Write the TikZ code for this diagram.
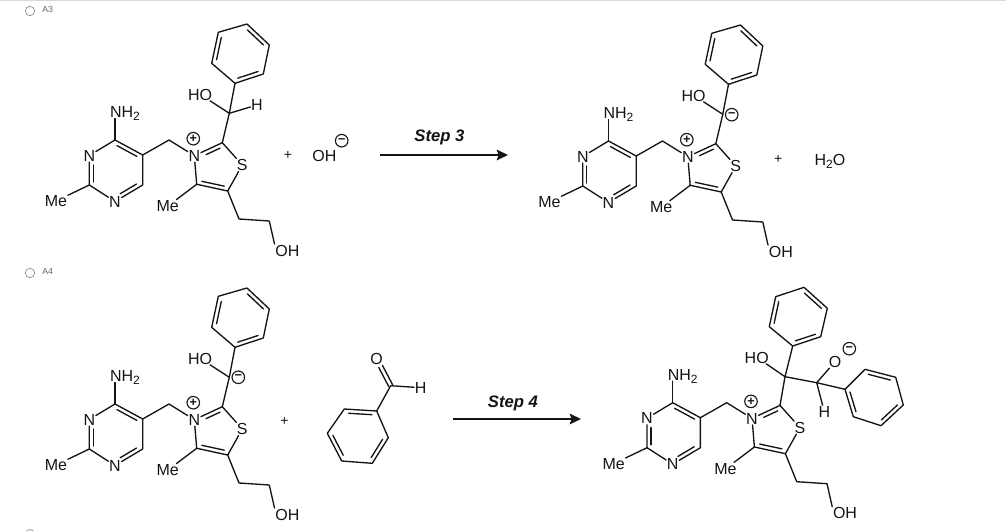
\documentclass[tikz,border=0pt]{standalone}
\usepackage{fontspec}
\setmainfont{Liberation Sans}
\usetikzlibrary{calc,arrows.meta}
\tikzset{
  bond/.style={line width=1pt,line cap=round,line join=round,black!92},
  atom/.style={inner sep=0.6pt,outer sep=0pt,font=\fontsize{12}{14}\selectfont,text height=8.6pt,text depth=0pt,text=black!92},
  vtx/.style={inner sep=0pt,outer sep=0pt,minimum size=0pt},
  charge/.style={circle,draw=black!90,line width=0.85pt,inner sep=0pt,minimum size=9.4pt,font=\fontsize{9.5}{9.5}\bfseries\selectfont,text=black!90},
  radio/.style={circle,draw=black!45,line width=0.5pt,inner sep=0pt,minimum size=7pt},
  opt/.style={inner sep=0pt,font=\fontsize{6.6}{8}\selectfont,text=black!60},
  plusmark/.style={inner sep=0pt,font=\fontsize{10.5}{12}\selectfont,text=black!90},
  steplabel/.style={inner sep=0pt,font=\fontsize{12.5}{14}\bfseries\itshape\selectfont,text=black!92},
  rxn/.style={line width=1.05pt,black!92,-{Stealth[length=8.5pt,width=8pt,inset=1.5pt]}}
}
% inner line of a double bond, on the right of a->b as seen on the page
\newcommand{\dbl}[4]{\draw[bond] ($(#1)!#3!(#2)!3pt!-90:(#2)$) -- ($(#1)!#4!(#2)!3pt!-90:(#2)$);}
% six-ring from six named vertices, listed clockwise on the page; inner lines on 2-3, 4-5, 6-1
\newcommand{\ringbonds}[6]{%
  \draw[bond] (#1) -- (#2) -- (#3) -- (#4) -- (#5) -- (#6) -- (#1);
  \dbl{#2}{#3}{.14}{.86}\dbl{#4}{#5}{.14}{.86}\dbl{#6}{#1}{.14}{.86}}
% common pyrimidine + thiazolium skeleton
\newcommand{\core}{%
  \node[vtx] (c4) at (115,140) {};
  \node[vtx] (c5) at (142.7,155) {};
  \node[vtx] (c6) at (142.7,185) {};
  \node[atom] (n1) at (115,201.5) {N};
  \node[vtx] (c2) at (89.3,185) {};
  \node[atom] (n3) at (89.3,155.5) {N};
  \node[atom] (me) at (56,201) {Me};
  \node[atom] (nh) at (125,112) {NH\raisebox{-2.2pt}{\fontsize{9}{9}\selectfont 2}};
  \node[vtx] (ch) at (169,140) {};
  \node[atom] (np) at (194.3,155.7) {N};
  \node[charge] (pos) at (193.3,138.7) {+};
  \node[vtx] (ca) at (222.3,142.7) {};
  \node[atom] (s) at (242.3,165) {S};
  \node[vtx] (cb) at (227.7,191) {};
  \node[vtx] (cc) at (196.7,184.3) {};
  \node[atom] (mf) at (167.7,206.2) {Me};
  \node[vtx] (ea) at (239,219) {};
  \node[vtx] (eb) at (269.3,221) {};
  \node[atom] (oh) at (287.3,250.5) {OH};
  \draw[bond] (c4) -- (c5) -- (c6) -- (n1) -- (c2) -- (n3) -- (c4);
  \dbl{c4}{c5}{.14}{.86}\dbl{c6}{n1}{.15}{.74}\dbl{c2}{n3}{.1}{.68}
  \draw[bond] (c4) -- (nh.south -| c4);
  \draw[bond] (c2) -- (me);
  \draw[bond] (c5) -- (ch) -- (np);
  \draw[bond] (np) -- (ca) -- (s) -- (cb) -- (cc) -- (np);
  \dbl{np}{ca}{.36}{.86}\dbl{cb}{cc}{.14}{.86}
  \draw[bond] (cc) -- (mf);
  \draw[bond] (cb) -- (ea) -- (eb) -- (oh.north west);}
% hydroxybenzyl group on the thiazolium C2
\newcommand{\carbinol}{%
  \node[vtx] (cq) at (229.3,113.3) {};
  \node[atom] (ho) at (200,94.3) {HO};
  \node[vtx] (p1) at (235,83.3) {};
  \node[vtx] (p2) at (211.7,63.3) {};
  \node[vtx] (p3) at (218.3,32.3) {};
  \node[vtx] (p4) at (247,24) {};
  \node[vtx] (p5) at (269.3,45) {};
  \node[vtx] (p6) at (263.3,74) {};
  \draw[bond] (ca) -- (cq) -- (p1);
  \draw[bond] (cq) -- (ho);
  \ringbonds{p1}{p2}{p3}{p4}{p5}{p6}}
\begin{document}
\begin{tikzpicture}[x=0.75pt,y=-0.75pt]
\useasboundingbox (0,0) rectangle (1006,531);
\clip (0,0) rectangle (1006,531);
\fill[white] (0,0) rectangle (1006,531);
\fill[black!15] (0,0) rectangle (1006,1.2);
% option marks
\node[radio] (r3) at (30,11) {};
\node[opt,anchor=west] (a3) at (42,9) {A3};
\node[radio] (r4) at (30,273) {};
\node[opt,anchor=west] (a4) at (42,271) {A4};
\node[radio] (r5) at (30,534.2) {};
% top left molecule
\begin{scope}[name prefix=a-]
  \core\carbinol
  \node[atom] (h) at (257,105) {H};
  \draw[bond] (cq) -- (h);
\end{scope}
\node[plusmark] (pl1) at (288,155.5) {+};
\node[atom] (hyd) at (324.3,155.7) {OH};
\node[charge] (hydc) at (341.7,140.7) {−};
% arrow 1
\coordinate (s3) at (380,155);
\coordinate (e3) at (508,155);
\draw[rxn] (s3) -- (e3);
\node[steplabel] (st3) at (439.5,137) {Step 3};
% top right molecule
\begin{scope}[shift={(493.5,1)},name prefix=b-]
  \core\carbinol
  \node[charge] (neg) at (238.2,113.7) {−};
\end{scope}
\node[plusmark] (pl2) at (778.3,159) {+};
\node[atom] (wat) at (830,160) {H\raisebox{-2.2pt}{\fontsize{9}{9}\selectfont 2}O};
% lower left molecule
\begin{scope}[shift={(0,264)},name prefix=c-]
  \core\carbinol
  \node[charge] (neg) at (238.3,113.3) {−};
\end{scope}
\node[plusmark] (pl3) at (284.5,421.7) {+};
% benzaldehyde
\node[atom] (bo) at (376.7,359) {O};
\node[vtx] (bc) at (390.7,385.7) {};
\node[atom] (bh) at (420.7,387.7) {H};
\node[vtx] (q1) at (376.7,411) {};
\node[vtx] (q2) at (344.3,409) {};
\node[vtx] (q3) at (327.3,433.3) {};
\node[vtx] (q4) at (341.7,461) {};
\node[vtx] (q5) at (372.3,463.3) {};
\node[vtx] (q6) at (388.3,437.7) {};
\draw[bond] (q1) -- (bc) -- (bh);
\draw[bond] ($(bc)!1.6pt!90:(bo)$) -- ($(bc)!.72!(bo)!1.6pt!90:(bo)$);
\draw[bond] ($(bc)!1.6pt!-90:(bo)$) -- ($(bc)!.72!(bo)!1.6pt!-90:(bo)$);
\ringbonds{q1}{q6}{q5}{q4}{q3}{q2}
% arrow 2
\coordinate (s4) at (453,419);
\coordinate (e4) at (581,419);
\draw[rxn] (s4) -- (e4);
\node[steplabel] (st4) at (513,403) {Step 4};
% lower right molecule
\begin{scope}[shift={(557.7,262.7)},name prefix=d-]
  \core
\end{scope}
\node[vtx] (dq) at (785,376.7) {};
\node[atom] (dho) at (756.7,357.3) {HO};
\node[vtx] (dc) at (816.7,382.7) {};
\node[atom] (do) at (835,361.7) {O};
\node[charge] (dneg) at (849.3,348.7) {−};
\node[atom] (dh) at (824.3,411.7) {H};
\node[vtx] (u1) at (792.7,346) {};
\node[vtx] (u2) at (769.3,326.7) {};
\node[vtx] (u3) at (775.7,296.7) {};
\node[vtx] (u4) at (804,287.3) {};
\node[vtx] (u5) at (827.3,308.3) {};
\node[vtx] (u6) at (820.7,336.7) {};
\node[vtx] (w1) at (845,389.3) {};
\node[vtx] (w2) at (853.3,416.7) {};
\node[vtx] (w3) at (881,425.7) {};
\node[vtx] (w4) at (903.3,405) {};
\node[vtx] (w5) at (895.7,377.3) {};
\node[vtx] (w6) at (865,369.3) {};
\draw[bond] (d-ca) -- (dq) -- (u1);
\draw[bond] (dq) -- (dho);
\draw[bond] (dq) -- (dc) -- (w1);
\draw[bond] (dc) -- (do);
\draw[bond] (dc) -- (dh);
\ringbonds{u1}{u2}{u3}{u4}{u5}{u6}
\ringbonds{w1}{w6}{w5}{w4}{w3}{w2}
\end{tikzpicture}
\end{document}
